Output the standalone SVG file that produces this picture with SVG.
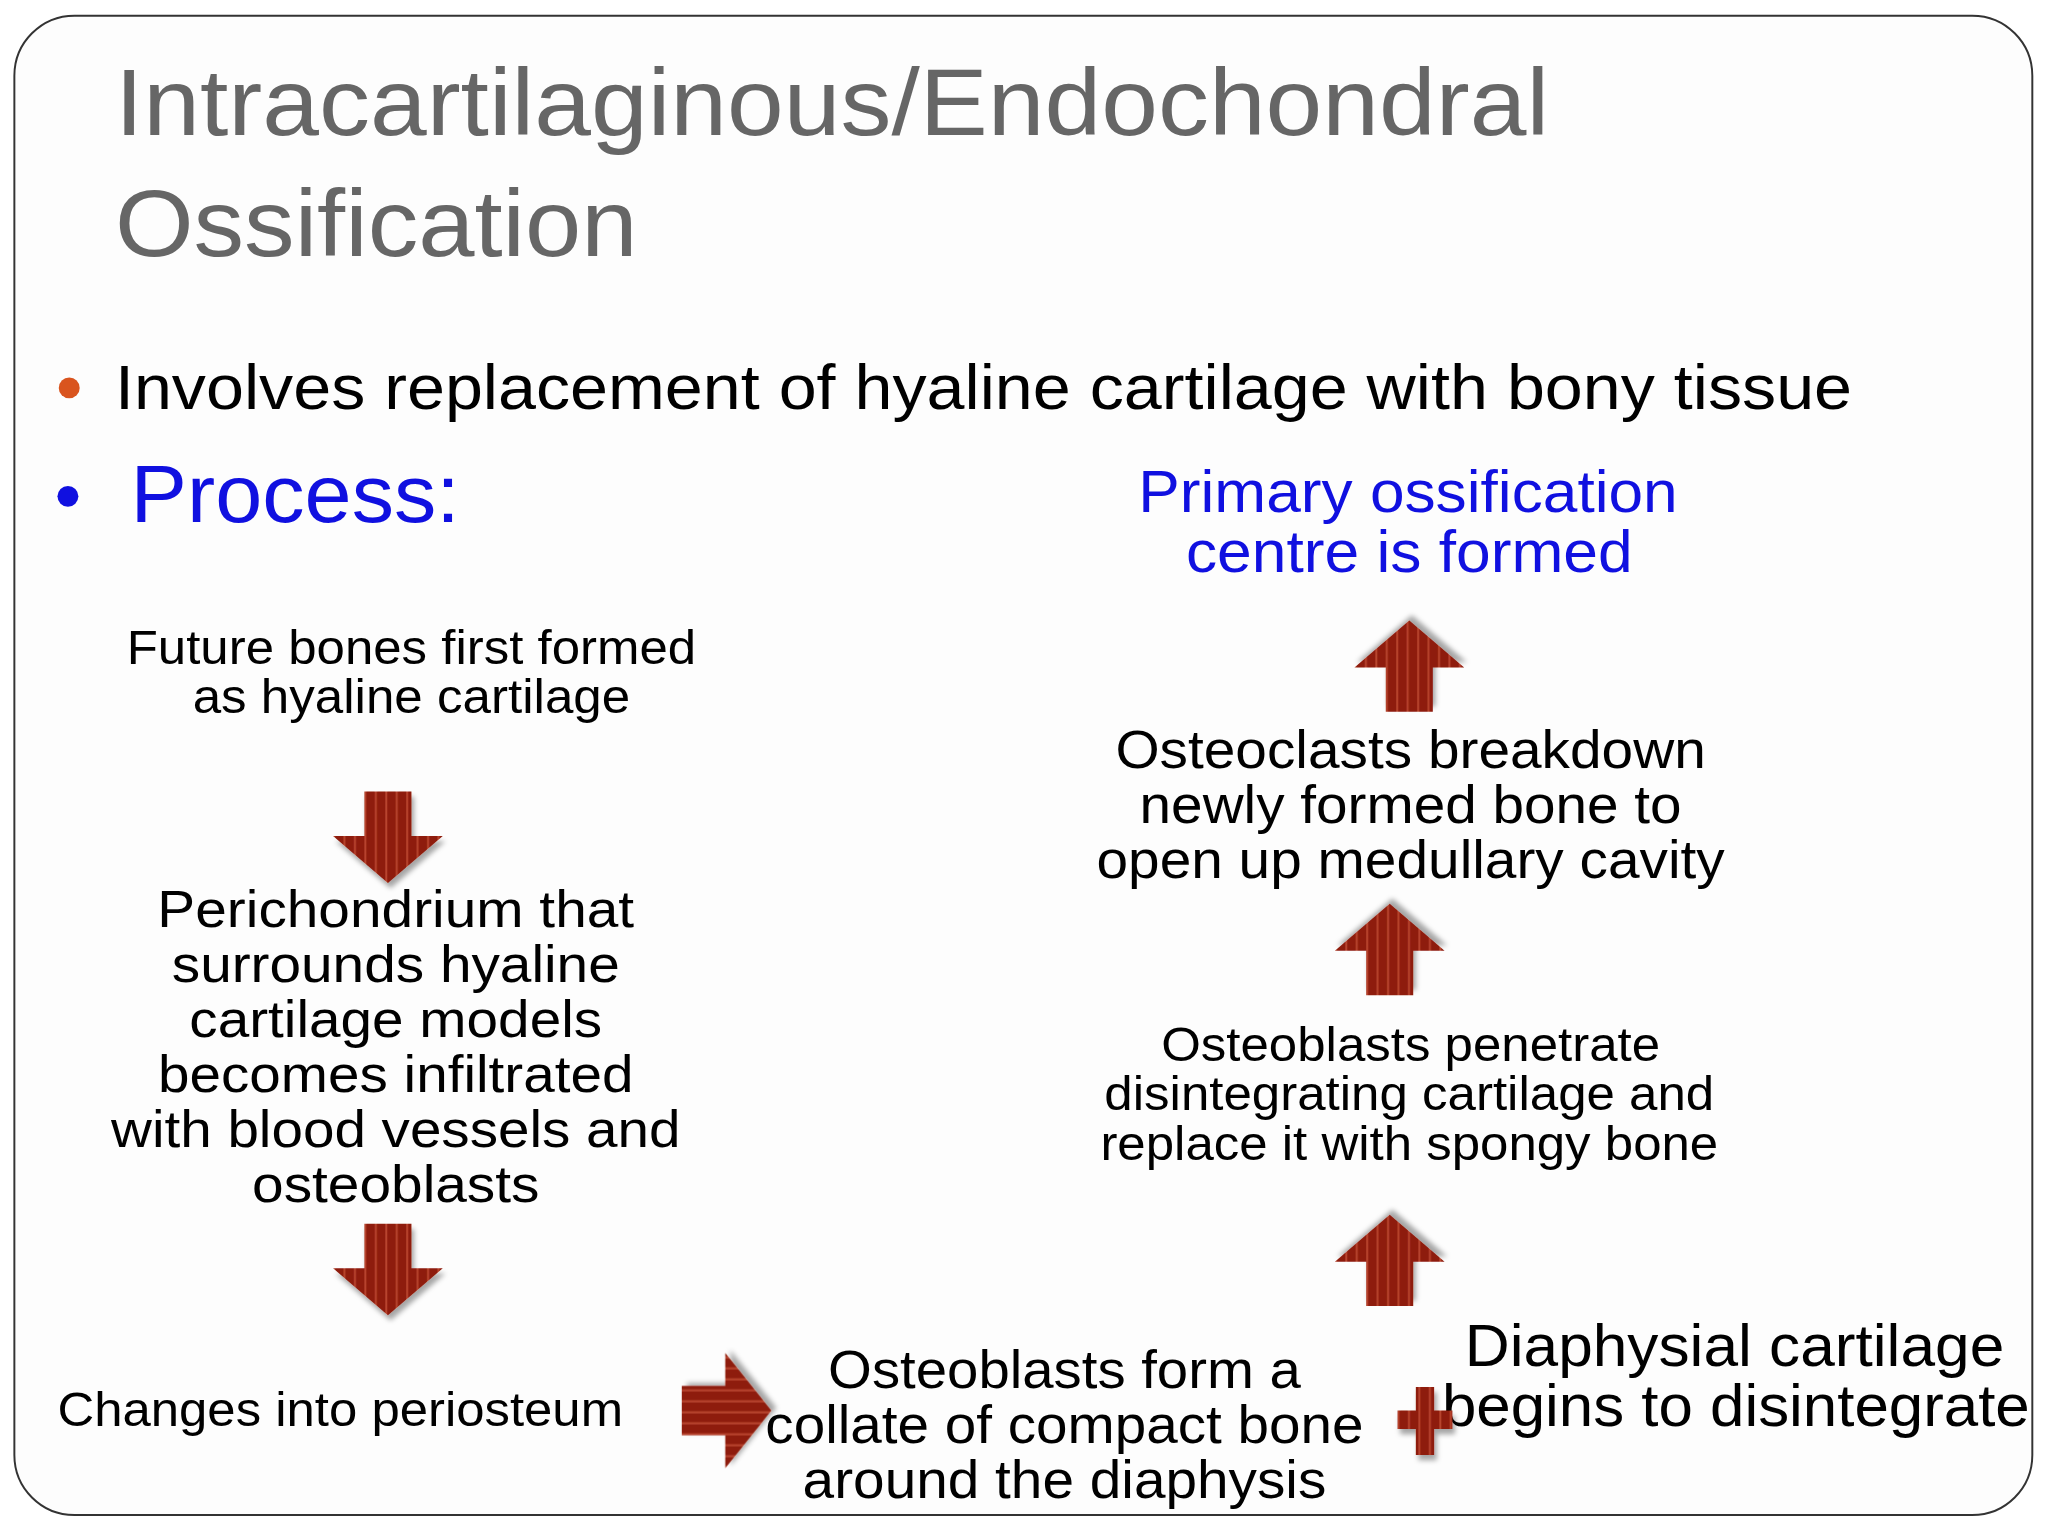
<svg xmlns="http://www.w3.org/2000/svg" width="2048" height="1536" viewBox="0 0 2048 1536">
<defs>
<pattern id="stripes" width="8" height="10" patternUnits="userSpaceOnUse">
<rect width="8" height="10" fill="#8e1c0c"/>
<rect x="6" width="1.5" height="10" fill="#b8442e"/>
</pattern>
<filter id="sh" x="-20%" y="-20%" width="150%" height="150%"><feDropShadow dx="2" dy="4" stdDeviation="2" flood-color="#000" flood-opacity="0.35"/></filter>
<path id="down" d="M-18,0 H18 V34 H42 L0,70 L-42,34 H-18 Z"/>
</defs>
<style>
text{font-family:"Liberation Sans",Arial,sans-serif;}
.t{fill:#000;text-anchor:middle;}
.arr{fill:url(#stripes);filter:url(#sh);}
</style>
<rect width="2048" height="1536" fill="#fff"/>
<g transform="scale(1.30612)">
<rect x="11" y="12" width="1545" height="1148" rx="46" fill="#fdfdfd" stroke="#333" stroke-width="1.5"/>
<g id="title" fill="#666" font-size="72" lengthAdjust="spacingAndGlyphs"><text x="88" y="103" textLength="1098" lengthAdjust="spacingAndGlyphs">Intracartilaginous/Endochondral</text><text x="88" y="196" textLength="400" lengthAdjust="spacingAndGlyphs">Ossification</text></g>
<g id="bullet1"><circle cx="53" cy="297" r="8" fill="#d9541e"/><text x="88" y="313" font-size="47.5" textLength="1330" lengthAdjust="spacingAndGlyphs">Involves replacement of hyaline cartilage with bony tissue</text></g>
<g id="bullet2" fill="#1010e0"><circle cx="52" cy="380" r="8"/><text x="100" y="400" font-size="62" textLength="252" lengthAdjust="spacingAndGlyphs">Process:</text></g>
<g id="n_primary" class="t" font-size="45"><text x="1078" y="392" fill="#1010e0" textLength="413" lengthAdjust="spacingAndGlyphs">Primary ossification</text><text x="1079" y="438" fill="#1010e0" textLength="342" lengthAdjust="spacingAndGlyphs">centre is formed</text></g>
<g id="n_future" class="t" font-size="37"><text x="315" y="508" textLength="436" lengthAdjust="spacingAndGlyphs">Future bones first formed</text><text x="315" y="546" textLength="335" lengthAdjust="spacingAndGlyphs">as hyaline cartilage</text></g>
<g id="n_peri" class="t" font-size="40"><text x="303" y="710" textLength="365" lengthAdjust="spacingAndGlyphs">Perichondrium that</text><text x="303" y="752" textLength="343" lengthAdjust="spacingAndGlyphs">surrounds hyaline</text><text x="303" y="794" textLength="316" lengthAdjust="spacingAndGlyphs">cartilage models</text><text x="303" y="836" textLength="364" lengthAdjust="spacingAndGlyphs">becomes infiltrated</text><text x="303" y="878" textLength="436" lengthAdjust="spacingAndGlyphs">with blood vessels and</text><text x="303" y="920" textLength="220" lengthAdjust="spacingAndGlyphs">osteoblasts</text></g>
<g id="n_changes"><text x="44" y="1092" font-size="37" textLength="433" lengthAdjust="spacingAndGlyphs">Changes into periosteum</text></g>
<g id="n_collate" class="t" font-size="41"><text x="815" y="1063" textLength="362" lengthAdjust="spacingAndGlyphs">Osteoblasts form a</text><text x="815" y="1105" textLength="458" lengthAdjust="spacingAndGlyphs">collate of compact bone</text><text x="815" y="1147" textLength="401" lengthAdjust="spacingAndGlyphs">around the diaphysis</text></g>
<g id="n_diaph" class="t" font-size="46"><text x="1328" y="1046" textLength="413" lengthAdjust="spacingAndGlyphs">Diaphysial cartilage</text><text x="1329" y="1092" textLength="450" lengthAdjust="spacingAndGlyphs">begins to disintegrate</text></g>
<g id="n_penetrate" class="t" font-size="37.5"><text x="1080" y="812" textLength="382" lengthAdjust="spacingAndGlyphs">Osteoblasts penetrate</text><text x="1079" y="850" textLength="467" lengthAdjust="spacingAndGlyphs">disintegrating cartilage and</text><text x="1079" y="888" textLength="473" lengthAdjust="spacingAndGlyphs">replace it with spongy bone</text></g>
<g id="n_clasts" class="t" font-size="41.5"><text x="1080" y="588" textLength="452" lengthAdjust="spacingAndGlyphs">Osteoclasts breakdown</text><text x="1080" y="630" textLength="415" lengthAdjust="spacingAndGlyphs">newly formed bone to</text><text x="1080" y="672" textLength="481" lengthAdjust="spacingAndGlyphs">open up medullary cavity</text></g>
<g id="connectors">
<use href="#down" class="arr" transform="translate(297,606)"/>
<use href="#down" class="arr" transform="translate(297,937)"/>
<use href="#down" class="arr" transform="translate(1064,1000) scale(1,-1)"/>
<use href="#down" class="arr" transform="translate(1064,762) scale(1,-1)"/>
<use href="#down" class="arr" transform="translate(1079,545) scale(1,-1)"/>
<use href="#down" class="arr" transform="translate(522,1080) rotate(-90) scale(1.05,0.98)"/>
<path class="arr" d="M1084,1062 H1098 V1080 H1112 V1094 H1098 V1114 H1084 V1094 H1070 V1080 H1084 Z"/>
</g>
</g>
</svg>
